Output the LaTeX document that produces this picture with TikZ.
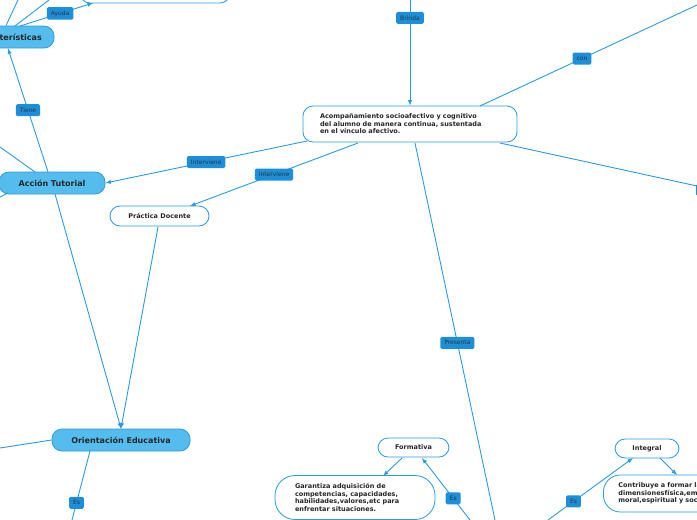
\documentclass[tikz,border=0pt]{standalone}
\usepackage{fontspec}
\setmainfont{DejaVu Sans}
\begin{document}
\definecolor{ln}{HTML}{2A9AE0}
\definecolor{lb}{HTML}{1B8FD9}
\definecolor{fl}{HTML}{55BDEE}
\begin{tikzpicture}[x=1pt,y=-1pt,
 wn/.style={draw=ln,line width=0.8pt,fill=white,rounded corners=10pt,font=\fontsize{6.5}{7.5}\selectfont\bfseries,text=black!85,inner sep=3pt},
 fn/.style={draw=ln,line width=0.8pt,fill=fl,rounded corners=10pt,font=\fontsize{8}{9}\selectfont\bfseries,text=black!85,minimum height=22pt},
 lab/.style={fill=lb,rounded corners=1.5pt,font=\fontsize{6}{7}\selectfont,text=black!80,inner xsep=4pt,minimum height=12pt},
 ar/.style={draw=ln,line width=0.9pt,-latex},
 li/.style={draw=ln,line width=0.9pt}]
\useasboundingbox (0,0) rectangle (697,520);
\clip (0,0) rectangle (697,520);
% nodes
\node[fn,minimum width=92pt] (car) at (8,37) {Características};
\node[wn,minimum width=150pt,minimum height=20pt] (top) at (155,-7) {};
\node[fn,minimum width=106pt] (acc) at (52,183) {Acción Tutorial};
\node[wn,minimum width=214pt,minimum height=36pt,align=left,text width=180pt] (aco) at (410,124) {Acompañamiento socioafectivo y cognitivo\\del alumno de manera continua, sustentada\\en el vínculo afectivo.};
\node[wn,minimum width=99pt,minimum height=20pt] (pra) at (159.5,216) {Práctica Docente};
\node[fn,minimum width=138pt] (ori) at (121,440) {Orientación Educativa};
\node[wn,minimum width=71pt,minimum height=19pt] (for) at (413.5,447.5) {Formativa};
\node[wn,minimum width=160pt,minimum height=44pt,rounded corners=20pt,align=left,text width=120pt] (gar) at (355,497.5) {Garantiza adquisición de\\competencias, capacidades,\\habilidades,valores,etc para\\enfrentar situaciones.};
\node[wn,minimum width=64pt,minimum height=19pt] (int) at (647,448.5) {Integral};
\node[wn,minimum width=140pt,minimum height=37pt,rounded corners=17pt,align=left,text width=110pt,anchor=west] (con) at (603,493.5) {Contribuye a formar las\\dimensionesfísica,emocional,\\moral,espiritual y social};
\coordinate (tr) at (697,5);
\coordinate (rr) at (697,186);
\coordinate (tb) at (410,0);
\coordinate (pe) at (495,520);
\coordinate (e1) at (72,520);
\coordinate (e2) at (470,520);
\coordinate (e3) at (548,520);
\coordinate (l1) at (0,147);
\coordinate (l2) at (0,197);
\coordinate (l3) at (0,448);
\coordinate (c1) at (18,0);
\coordinate (c2) at (49,0);
% connectors
\draw[li] (car.north -| 6,0) -- (c1);
\draw[li] (15,26) -- (c2);
\draw[ar] (20,26) -- node[lab,pos=0.55]{Ayuda} (93,3);
\draw[ar] (48,172) -- node[lab,pos=0.5]{Tiene} (car.south -| 8,0);
\draw[li] (35,172) -- (l1);
\draw[li] (8,193) -- (l2);
\draw[ar] (tb) -- node[lab,pos=0.17]{Brinda} (aco.north);
\draw[li] (480,106) -- node[lab,pos=0.47]{con} (tr);
\draw[li] (500,143) -- (rr);
\node[lab,minimum height=12pt] at (700,190) {};
\draw[ar] (307,141) -- node[lab,pos=0.5]{Interviene} (acc.east);
\draw[ar] (358,143) -- node[lab,pos=0.5]{Interviene} (190,206);
\draw[ar] (158,227) -- (ori.north);
\draw[ar] (55,194) -- (ori.north);
\draw[li] (ori.west) -- (l3);
\draw[li] (90,451) -- node[lab,pos=0.75]{Es} (e1);
\draw[li] (415,143) -- node[lab,pos=0.53]{Presenta} (pe);
\draw[ar] (402,458) -- (383,476);
\draw[ar] (e2) -- node[lab,pos=0.35]{Es} (422,458);
\draw[ar] (660,458) -- (677,475);
\draw[ar] (e3) -- node[lab,pos=0.3]{Es} (633,458);
\end{tikzpicture}
\end{document}
